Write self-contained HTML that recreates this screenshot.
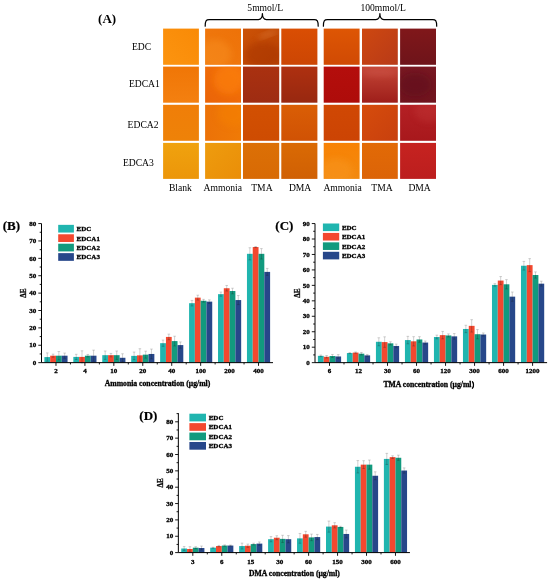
<!DOCTYPE html>
<html lang="en"><head><meta charset="utf-8"><title>Figure</title>
<style>html,body{margin:0;padding:0;background:#fff}svg{display:block}</style></head><body>
<svg width="550" height="581" viewBox="0 0 550 581">
<rect width="550" height="581" fill="#fff"/>
<g id="panelA">
<defs>
<linearGradient id="g00" x1="1" y1="0" x2="0" y2="1"><stop offset="0" stop-color="#F98A06"/><stop offset="1" stop-color="#FC9410"/></linearGradient>
<linearGradient id="g01" x1="1" y1="0" x2="0" y2="1"><stop offset="0" stop-color="#EE7208"/><stop offset="1" stop-color="#F07A10"/></linearGradient>
<linearGradient id="g02" x1="0" y1="0" x2="1" y2="1"><stop offset="0" stop-color="#CC5206"/><stop offset="1" stop-color="#B84204"/></linearGradient>
<linearGradient id="g03" x1="0" y1="0" x2="0" y2="1"><stop offset="0" stop-color="#DA4E03"/><stop offset="1" stop-color="#CC4604"/></linearGradient>
<linearGradient id="g04" x1="0" y1="0" x2="0" y2="1"><stop offset="0" stop-color="#DE5604"/><stop offset="1" stop-color="#D04A04"/></linearGradient>
<linearGradient id="g05" x1="0" y1="0" x2="1" y2="1"><stop offset="0" stop-color="#CE4810"/><stop offset="1" stop-color="#B83A18"/></linearGradient>
<linearGradient id="g06" x1="0" y1="0" x2="0" y2="1"><stop offset="0" stop-color="#80171A"/><stop offset="1" stop-color="#6E141A"/></linearGradient>
<linearGradient id="g10" x1="0" y1="0" x2="0" y2="1"><stop offset="0" stop-color="#F07606"/><stop offset="1" stop-color="#F48010"/></linearGradient>
<linearGradient id="g11" x1="0" y1="1" x2="1" y2="0"><stop offset="0" stop-color="#EA6408"/><stop offset="1" stop-color="#F47208"/></linearGradient>
<linearGradient id="g12" x1="0" y1="0" x2="0" y2="1"><stop offset="0" stop-color="#AA3110"/><stop offset="1" stop-color="#9E2C12"/></linearGradient>
<linearGradient id="g13" x1="0" y1="0" x2="0" y2="1"><stop offset="0" stop-color="#AE3010"/><stop offset="1" stop-color="#982810"/></linearGradient>
<linearGradient id="g14" x1="0" y1="0" x2="0" y2="1"><stop offset="0" stop-color="#B40E0C"/><stop offset="1" stop-color="#AE0C0A"/></linearGradient>
<linearGradient id="g15" x1="0" y1="0" x2="0" y2="1"><stop offset="0" stop-color="#C44636"/><stop offset="1" stop-color="#9E1E1A"/></linearGradient>
<linearGradient id="g16" x1="0" y1="0" x2="0" y2="1"><stop offset="0" stop-color="#781822"/><stop offset="1" stop-color="#70141E"/></linearGradient>
<linearGradient id="g20" x1="0" y1="0" x2="0" y2="1"><stop offset="0" stop-color="#F07E08"/><stop offset="1" stop-color="#EE8208"/></linearGradient>
<linearGradient id="g21" x1="0" y1="0" x2="1" y2="0"><stop offset="0" stop-color="#EC7208"/><stop offset="1" stop-color="#F07A06"/></linearGradient>
<linearGradient id="g22" x1="0" y1="0" x2="0" y2="1"><stop offset="0" stop-color="#D25002"/><stop offset="1" stop-color="#CE4C02"/></linearGradient>
<linearGradient id="g23" x1="0" y1="0" x2="0" y2="1"><stop offset="0" stop-color="#DA5E05"/><stop offset="1" stop-color="#D05204"/></linearGradient>
<linearGradient id="g24" x1="0" y1="0" x2="0" y2="1"><stop offset="0" stop-color="#D04804"/><stop offset="1" stop-color="#CC4404"/></linearGradient>
<linearGradient id="g25" x1="0" y1="0" x2="1" y2="1"><stop offset="0" stop-color="#D64C0C"/><stop offset="1" stop-color="#C8400E"/></linearGradient>
<linearGradient id="g26" x1="0" y1="0" x2="0" y2="1"><stop offset="0" stop-color="#B42024"/><stop offset="1" stop-color="#A8181C"/></linearGradient>
<linearGradient id="g30" x1="0" y1="0" x2="0" y2="1"><stop offset="0" stop-color="#F0A20E"/><stop offset="1" stop-color="#EC960A"/></linearGradient>
<linearGradient id="g31" x1="0" y1="0" x2="1" y2="1"><stop offset="0" stop-color="#EE9C0E"/><stop offset="1" stop-color="#EA8E08"/></linearGradient>
<linearGradient id="g32" x1="0" y1="0" x2="0" y2="1"><stop offset="0" stop-color="#DC7006"/><stop offset="1" stop-color="#D86A04"/></linearGradient>
<linearGradient id="g33" x1="0" y1="0" x2="0" y2="1"><stop offset="0" stop-color="#DA6A04"/><stop offset="1" stop-color="#D06004"/></linearGradient>
<linearGradient id="g34" x1="0" y1="0" x2="0" y2="1"><stop offset="0" stop-color="#F88204"/><stop offset="1" stop-color="#F28A10"/></linearGradient>
<linearGradient id="g35" x1="0" y1="0" x2="0" y2="1"><stop offset="0" stop-color="#E26A06"/><stop offset="1" stop-color="#DC6408"/></linearGradient>
<linearGradient id="g36" x1="0" y1="0" x2="0" y2="1"><stop offset="0" stop-color="#C62320"/><stop offset="1" stop-color="#BC1E1E"/></linearGradient>
</defs>
<rect x="163.1" y="28.6" width="35.8" height="36.2" fill="url(#g00)"/>
<rect x="205.1" y="28.6" width="35.9" height="36.2" fill="url(#g01)"/>
<rect x="243.0" y="28.6" width="36.2" height="36.2" fill="url(#g02)"/>
<rect x="281.3" y="28.6" width="36.1" height="36.2" fill="url(#g03)"/>
<rect x="323.7" y="28.6" width="35.9" height="36.2" fill="url(#g04)"/>
<rect x="362.0" y="28.6" width="35.8" height="36.2" fill="url(#g05)"/>
<rect x="400.1" y="28.6" width="35.9" height="36.2" fill="url(#g06)"/>
<rect x="163.1" y="66.6" width="35.8" height="36.1" fill="url(#g10)"/>
<rect x="205.1" y="66.6" width="35.9" height="36.1" fill="url(#g11)"/>
<rect x="243.0" y="66.6" width="36.2" height="36.1" fill="url(#g12)"/>
<rect x="281.3" y="66.6" width="36.1" height="36.1" fill="url(#g13)"/>
<rect x="323.7" y="66.6" width="35.9" height="36.1" fill="url(#g14)"/>
<rect x="362.0" y="66.6" width="35.8" height="36.1" fill="url(#g15)"/>
<rect x="400.1" y="66.6" width="35.9" height="36.1" fill="url(#g16)"/>
<rect x="163.1" y="104.8" width="35.8" height="36.0" fill="url(#g20)"/>
<rect x="205.1" y="104.8" width="35.9" height="36.0" fill="url(#g21)"/>
<rect x="243.0" y="104.8" width="36.2" height="36.0" fill="url(#g22)"/>
<rect x="281.3" y="104.8" width="36.1" height="36.0" fill="url(#g23)"/>
<rect x="323.7" y="104.8" width="35.9" height="36.0" fill="url(#g24)"/>
<rect x="362.0" y="104.8" width="35.8" height="36.0" fill="url(#g25)"/>
<rect x="400.1" y="104.8" width="35.9" height="36.0" fill="url(#g26)"/>
<rect x="163.1" y="142.9" width="35.8" height="36.0" fill="url(#g30)"/>
<rect x="205.1" y="142.9" width="35.9" height="36.0" fill="url(#g31)"/>
<rect x="243.0" y="142.9" width="36.2" height="36.0" fill="url(#g32)"/>
<rect x="281.3" y="142.9" width="36.1" height="36.0" fill="url(#g33)"/>
<rect x="323.7" y="142.9" width="35.9" height="36.0" fill="url(#g34)"/>
<rect x="362.0" y="142.9" width="35.8" height="36.0" fill="url(#g35)"/>
<rect x="400.1" y="142.9" width="35.9" height="36.0" fill="url(#g36)"/>
<defs><filter id="bl" x="-50%" y="-50%" width="200%" height="200%"><feGaussianBlur stdDeviation="3"/></filter>
<clipPath id="cp00"><rect x="163.1" y="28.6" width="35.8" height="36.2"/></clipPath>
<clipPath id="cp01"><rect x="205.1" y="28.6" width="35.9" height="36.2"/></clipPath>
<clipPath id="cp02"><rect x="243.0" y="28.6" width="36.2" height="36.2"/></clipPath>
<clipPath id="cp03"><rect x="281.3" y="28.6" width="36.1" height="36.2"/></clipPath>
<clipPath id="cp04"><rect x="323.7" y="28.6" width="35.9" height="36.2"/></clipPath>
<clipPath id="cp05"><rect x="362.0" y="28.6" width="35.8" height="36.2"/></clipPath>
<clipPath id="cp06"><rect x="400.1" y="28.6" width="35.9" height="36.2"/></clipPath>
<clipPath id="cp10"><rect x="163.1" y="66.6" width="35.8" height="36.1"/></clipPath>
<clipPath id="cp11"><rect x="205.1" y="66.6" width="35.9" height="36.1"/></clipPath>
<clipPath id="cp12"><rect x="243.0" y="66.6" width="36.2" height="36.1"/></clipPath>
<clipPath id="cp13"><rect x="281.3" y="66.6" width="36.1" height="36.1"/></clipPath>
<clipPath id="cp14"><rect x="323.7" y="66.6" width="35.9" height="36.1"/></clipPath>
<clipPath id="cp15"><rect x="362.0" y="66.6" width="35.8" height="36.1"/></clipPath>
<clipPath id="cp16"><rect x="400.1" y="66.6" width="35.9" height="36.1"/></clipPath>
<clipPath id="cp20"><rect x="163.1" y="104.8" width="35.8" height="36.0"/></clipPath>
<clipPath id="cp21"><rect x="205.1" y="104.8" width="35.9" height="36.0"/></clipPath>
<clipPath id="cp22"><rect x="243.0" y="104.8" width="36.2" height="36.0"/></clipPath>
<clipPath id="cp23"><rect x="281.3" y="104.8" width="36.1" height="36.0"/></clipPath>
<clipPath id="cp24"><rect x="323.7" y="104.8" width="35.9" height="36.0"/></clipPath>
<clipPath id="cp25"><rect x="362.0" y="104.8" width="35.8" height="36.0"/></clipPath>
<clipPath id="cp26"><rect x="400.1" y="104.8" width="35.9" height="36.0"/></clipPath>
<clipPath id="cp30"><rect x="163.1" y="142.9" width="35.8" height="36.0"/></clipPath>
<clipPath id="cp31"><rect x="205.1" y="142.9" width="35.9" height="36.0"/></clipPath>
<clipPath id="cp32"><rect x="243.0" y="142.9" width="36.2" height="36.0"/></clipPath>
<clipPath id="cp33"><rect x="281.3" y="142.9" width="36.1" height="36.0"/></clipPath>
<clipPath id="cp34"><rect x="323.7" y="142.9" width="35.9" height="36.0"/></clipPath>
<clipPath id="cp35"><rect x="362.0" y="142.9" width="35.8" height="36.0"/></clipPath>
<clipPath id="cp36"><rect x="400.1" y="142.9" width="35.9" height="36.0"/></clipPath>
</defs>
<g clip-path="url(#cp01)"><ellipse cx="215.2" cy="53.9" rx="16.2" ry="14.5" fill="#FA9626" opacity="0.38" filter="url(#bl)" transform="rotate(0 215.2 53.9)"/></g>
<g clip-path="url(#cp02)"><ellipse cx="262.9" cy="54.7" rx="18.1" ry="12.7" fill="#A83602" opacity="0.55" filter="url(#bl)" transform="rotate(0 262.9 54.7)"/></g>
<g clip-path="url(#cp02)"><ellipse cx="268.3" cy="34.4" rx="10.9" ry="1.8" fill="#E89050" opacity="0.55" filter="url(#bl)" transform="rotate(-20 268.3 34.4)"/></g>
<g clip-path="url(#cp11)"><ellipse cx="228.8" cy="79.6" rx="15.1" ry="14.4" fill="#FC8008" opacity="0.65" filter="url(#bl)" transform="rotate(-35 228.8 79.6)"/></g>
<g clip-path="url(#cp15)"><ellipse cx="379.9" cy="72.4" rx="17.9" ry="4.3" fill="#D05A50" opacity="0.45" filter="url(#bl)" transform="rotate(0 379.9 72.4)"/></g>
<g clip-path="url(#cp16)"><ellipse cx="415.2" cy="84.7" rx="16.2" ry="11.6" fill="#5E0E1C" opacity="0.55" filter="url(#bl)" transform="rotate(0 415.2 84.7)"/></g>
<g clip-path="url(#cp26)"><ellipse cx="428.8" cy="111.3" rx="14.4" ry="10.8" fill="#C03636" opacity="0.45" filter="url(#bl)" transform="rotate(0 428.8 111.3)"/></g>
<g clip-path="url(#cp34)"><ellipse cx="336.3" cy="171.0" rx="16.2" ry="12.6" fill="#FA9824" opacity="0.45" filter="url(#bl)" transform="rotate(0 336.3 171.0)"/></g>
<g clip-path="url(#cp21)"><ellipse cx="232.0" cy="113.8" rx="14.4" ry="12.6" fill="#F68206" opacity="0.45" filter="url(#bl)" transform="rotate(0 232.0 113.8)"/></g>
<path d="M205.2 26.2 C205.2 20.6 206.2 19.6 209.2 19.6 L258.4 19.6 C260.9 19.6 262.4 17.6 262.4 13.6 C262.4 17.6 263.9 19.6 266.4 19.6 L314.2 19.6 C317.2 19.6 318.2 20.6 318.2 26.2" fill="none" stroke="#000" stroke-width="1.2" stroke-linecap="round" stroke-linejoin="round"/>
<path d="M323.4 26.2 C323.4 20.6 324.4 19.6 327.4 19.6 L375.9 19.6 C378.4 19.6 379.9 17.6 379.9 13.6 C379.9 17.6 381.4 19.6 383.9 19.6 L432.7 19.6 C435.7 19.6 436.7 20.6 436.7 26.2" fill="none" stroke="#000" stroke-width="1.2" stroke-linecap="round" stroke-linejoin="round"/>
<text x="98.1" y="22.9" font-family="Liberation Serif, serif" font-size="13" font-weight="bold" text-anchor="start" fill="#000">(A)</text>
<text x="265.2" y="11.4" font-family="Liberation Serif, serif" font-size="9.6" font-weight="normal" text-anchor="middle" fill="#000">5mmol/L</text>
<text x="383.1" y="11.3" font-family="Liberation Serif, serif" font-size="9.6" font-weight="normal" text-anchor="middle" fill="#000">100mmol/L</text>
<text x="132" y="50.2" font-family="Liberation Serif, serif" font-size="9.6" font-weight="normal" text-anchor="start" fill="#000">EDC</text>
<text x="128.9" y="87.4" font-family="Liberation Serif, serif" font-size="9.6" font-weight="normal" text-anchor="start" fill="#000">EDCA1</text>
<text x="127.6" y="128.2" font-family="Liberation Serif, serif" font-size="9.6" font-weight="normal" text-anchor="start" fill="#000">EDCA2</text>
<text x="122.9" y="166.2" font-family="Liberation Serif, serif" font-size="9.6" font-weight="normal" text-anchor="start" fill="#000">EDCA3</text>
<text x="180.4" y="191" font-family="Liberation Serif, serif" font-size="9.6" font-weight="normal" text-anchor="middle" fill="#000">Blank</text>
<text x="222.8" y="191" font-family="Liberation Serif, serif" font-size="9.6" font-weight="normal" text-anchor="middle" fill="#000">Ammonia</text>
<text x="261.9" y="191" font-family="Liberation Serif, serif" font-size="9.6" font-weight="normal" text-anchor="middle" fill="#000">TMA</text>
<text x="300.1" y="191" font-family="Liberation Serif, serif" font-size="9.6" font-weight="normal" text-anchor="middle" fill="#000">DMA</text>
<text x="342.6" y="191" font-family="Liberation Serif, serif" font-size="9.6" font-weight="normal" text-anchor="middle" fill="#000">Ammonia</text>
<text x="382" y="191" font-family="Liberation Serif, serif" font-size="9.6" font-weight="normal" text-anchor="middle" fill="#000">TMA</text>
<text x="419.6" y="191" font-family="Liberation Serif, serif" font-size="9.6" font-weight="normal" text-anchor="middle" fill="#000">DMA</text>
</g>
<g>
<text x="2.7" y="230.3" font-family="Liberation Serif, serif" font-size="13" font-weight="bold" text-anchor="start" fill="#000" stroke="#000" stroke-width="0.2" >(B)</text>
<rect x="44.39" y="357.09" width="5.79" height="5.56" fill="#20B5AF"/>
<rect x="50.18" y="355.70" width="5.79" height="6.95" fill="#F3482F"/>
<rect x="55.97" y="355.70" width="5.79" height="6.95" fill="#129A7E"/>
<rect x="61.76" y="355.70" width="5.79" height="6.95" fill="#27478A"/>
<path d="M47.29 352.91V357.09M45.99 352.91H48.59" stroke="#8c8c8c" stroke-width="0.5" fill="none" opacity="0.8"/>
<path d="M47.29 357.09V361.26M45.99 361.26H48.59" stroke="#1a1a1a" stroke-width="0.5" fill="none" opacity="0.5"/>
<path d="M53.07 354.13V355.70M51.77 354.13H54.37" stroke="#8c8c8c" stroke-width="0.5" fill="none" opacity="0.8"/>
<path d="M53.07 355.70V357.26M51.77 357.26H54.37" stroke="#1a1a1a" stroke-width="0.5" fill="none" opacity="0.5"/>
<path d="M58.86 351.52V355.70M57.56 351.52H60.16" stroke="#8c8c8c" stroke-width="0.5" fill="none" opacity="0.8"/>
<path d="M58.86 355.70V359.87M57.56 359.87H60.16" stroke="#1a1a1a" stroke-width="0.5" fill="none" opacity="0.5"/>
<path d="M64.65 353.09V355.70M63.35 353.09H65.95" stroke="#8c8c8c" stroke-width="0.5" fill="none" opacity="0.8"/>
<path d="M64.65 355.70V358.30M63.35 358.30H65.95" stroke="#1a1a1a" stroke-width="0.5" fill="none" opacity="0.5"/>
<rect x="73.33" y="356.91" width="5.79" height="5.74" fill="#20B5AF"/>
<rect x="79.12" y="356.91" width="5.79" height="5.74" fill="#F3482F"/>
<rect x="84.91" y="355.70" width="5.79" height="6.95" fill="#129A7E"/>
<rect x="90.69" y="355.70" width="5.79" height="6.95" fill="#27478A"/>
<path d="M76.22 354.31V356.91M74.92 354.31H77.52" stroke="#8c8c8c" stroke-width="0.5" fill="none" opacity="0.8"/>
<path d="M76.22 356.91V359.52M74.92 359.52H77.52" stroke="#1a1a1a" stroke-width="0.5" fill="none" opacity="0.5"/>
<path d="M82.01 350.83V356.91M80.71 350.83H83.31" stroke="#8c8c8c" stroke-width="0.5" fill="none" opacity="0.8"/>
<path d="M82.01 356.91V363.00M80.71 363.00H83.31" stroke="#1a1a1a" stroke-width="0.5" fill="none" opacity="0.5"/>
<path d="M87.80 354.48V355.70M86.50 354.48H89.10" stroke="#8c8c8c" stroke-width="0.5" fill="none" opacity="0.8"/>
<path d="M87.80 355.70V356.91M86.50 356.91H89.10" stroke="#1a1a1a" stroke-width="0.5" fill="none" opacity="0.5"/>
<path d="M93.59 350.13V355.70M92.29 350.13H94.89" stroke="#8c8c8c" stroke-width="0.5" fill="none" opacity="0.8"/>
<path d="M93.59 355.70V361.26M92.29 361.26H94.89" stroke="#1a1a1a" stroke-width="0.5" fill="none" opacity="0.5"/>
<rect x="102.27" y="355.17" width="5.79" height="7.48" fill="#20B5AF"/>
<rect x="108.06" y="355.17" width="5.79" height="7.48" fill="#F3482F"/>
<rect x="113.84" y="355.17" width="5.79" height="7.48" fill="#129A7E"/>
<rect x="119.63" y="357.78" width="5.79" height="4.87" fill="#27478A"/>
<path d="M105.16 351.00V355.17M103.86 351.00H106.46" stroke="#8c8c8c" stroke-width="0.5" fill="none" opacity="0.8"/>
<path d="M105.16 355.17V359.35M103.86 359.35H106.46" stroke="#1a1a1a" stroke-width="0.5" fill="none" opacity="0.5"/>
<path d="M110.95 353.44V355.17M109.65 353.44H112.25" stroke="#8c8c8c" stroke-width="0.5" fill="none" opacity="0.8"/>
<path d="M110.95 355.17V356.91M109.65 356.91H112.25" stroke="#1a1a1a" stroke-width="0.5" fill="none" opacity="0.5"/>
<path d="M116.74 351.00V355.17M115.44 351.00H118.04" stroke="#8c8c8c" stroke-width="0.5" fill="none" opacity="0.8"/>
<path d="M116.74 355.17V359.35M115.44 359.35H118.04" stroke="#1a1a1a" stroke-width="0.5" fill="none" opacity="0.5"/>
<path d="M122.52 353.78V357.78M121.22 353.78H123.82" stroke="#8c8c8c" stroke-width="0.5" fill="none" opacity="0.8"/>
<path d="M122.52 357.78V361.78M121.22 361.78H123.82" stroke="#1a1a1a" stroke-width="0.5" fill="none" opacity="0.5"/>
<rect x="131.21" y="355.87" width="5.79" height="6.78" fill="#20B5AF"/>
<rect x="136.99" y="355.35" width="5.79" height="7.30" fill="#F3482F"/>
<rect x="142.78" y="354.65" width="5.79" height="8.00" fill="#129A7E"/>
<rect x="148.57" y="353.96" width="5.79" height="8.69" fill="#27478A"/>
<path d="M134.10 352.05V355.87M132.80 352.05H135.40" stroke="#8c8c8c" stroke-width="0.5" fill="none" opacity="0.8"/>
<path d="M134.10 355.87V359.69M132.80 359.69H135.40" stroke="#1a1a1a" stroke-width="0.5" fill="none" opacity="0.5"/>
<path d="M139.89 348.74V355.35M138.59 348.74H141.19" stroke="#8c8c8c" stroke-width="0.5" fill="none" opacity="0.8"/>
<path d="M139.89 355.35V361.95M138.59 361.95H141.19" stroke="#1a1a1a" stroke-width="0.5" fill="none" opacity="0.5"/>
<path d="M145.68 351.18V354.65M144.38 351.18H146.98" stroke="#8c8c8c" stroke-width="0.5" fill="none" opacity="0.8"/>
<path d="M145.68 354.65V358.13M144.38 358.13H146.98" stroke="#1a1a1a" stroke-width="0.5" fill="none" opacity="0.5"/>
<path d="M151.46 349.09V353.96M150.16 349.09H152.76" stroke="#8c8c8c" stroke-width="0.5" fill="none" opacity="0.8"/>
<path d="M151.46 353.96V358.83M150.16 358.83H152.76" stroke="#1a1a1a" stroke-width="0.5" fill="none" opacity="0.5"/>
<rect x="160.14" y="343.18" width="5.79" height="19.47" fill="#20B5AF"/>
<rect x="165.93" y="336.92" width="5.79" height="25.73" fill="#F3482F"/>
<rect x="171.72" y="341.09" width="5.79" height="21.56" fill="#129A7E"/>
<rect x="177.51" y="345.09" width="5.79" height="17.56" fill="#27478A"/>
<path d="M163.04 340.05V343.18M161.74 340.05H164.34" stroke="#8c8c8c" stroke-width="0.5" fill="none" opacity="0.8"/>
<path d="M163.04 343.18V346.31M161.74 346.31H164.34" stroke="#1a1a1a" stroke-width="0.5" fill="none" opacity="0.5"/>
<path d="M168.83 334.14V336.92M167.53 334.14H170.13" stroke="#8c8c8c" stroke-width="0.5" fill="none" opacity="0.8"/>
<path d="M168.83 336.92V339.70M167.53 339.70H170.13" stroke="#1a1a1a" stroke-width="0.5" fill="none" opacity="0.5"/>
<path d="M174.61 336.22V341.09M173.31 336.22H175.91" stroke="#8c8c8c" stroke-width="0.5" fill="none" opacity="0.8"/>
<path d="M174.61 341.09V345.96M173.31 345.96H175.91" stroke="#1a1a1a" stroke-width="0.5" fill="none" opacity="0.5"/>
<path d="M180.40 341.96V345.09M179.10 341.96H181.70" stroke="#8c8c8c" stroke-width="0.5" fill="none" opacity="0.8"/>
<path d="M180.40 345.09V348.22M179.10 348.22H181.70" stroke="#1a1a1a" stroke-width="0.5" fill="none" opacity="0.5"/>
<rect x="189.08" y="303.19" width="5.79" height="59.46" fill="#20B5AF"/>
<rect x="194.87" y="297.63" width="5.79" height="65.02" fill="#F3482F"/>
<rect x="200.66" y="300.76" width="5.79" height="61.89" fill="#129A7E"/>
<rect x="206.44" y="301.63" width="5.79" height="61.02" fill="#27478A"/>
<path d="M191.98 300.41V303.19M190.68 300.41H193.28" stroke="#8c8c8c" stroke-width="0.5" fill="none" opacity="0.8"/>
<path d="M191.98 303.19V305.97M190.68 305.97H193.28" stroke="#1a1a1a" stroke-width="0.5" fill="none" opacity="0.5"/>
<path d="M197.76 295.20V297.63M196.46 295.20H199.06" stroke="#8c8c8c" stroke-width="0.5" fill="none" opacity="0.8"/>
<path d="M197.76 297.63V300.06M196.46 300.06H199.06" stroke="#1a1a1a" stroke-width="0.5" fill="none" opacity="0.5"/>
<path d="M203.55 299.37V300.76M202.25 299.37H204.85" stroke="#8c8c8c" stroke-width="0.5" fill="none" opacity="0.8"/>
<path d="M203.55 300.76V302.15M202.25 302.15H204.85" stroke="#1a1a1a" stroke-width="0.5" fill="none" opacity="0.5"/>
<path d="M209.34 299.89V301.63M208.04 299.89H210.64" stroke="#8c8c8c" stroke-width="0.5" fill="none" opacity="0.8"/>
<path d="M209.34 301.63V303.37M208.04 303.37H210.64" stroke="#1a1a1a" stroke-width="0.5" fill="none" opacity="0.5"/>
<rect x="218.02" y="294.15" width="5.79" height="68.50" fill="#20B5AF"/>
<rect x="223.81" y="288.24" width="5.79" height="74.41" fill="#F3482F"/>
<rect x="229.59" y="291.02" width="5.79" height="71.63" fill="#129A7E"/>
<rect x="235.38" y="300.06" width="5.79" height="62.59" fill="#27478A"/>
<path d="M220.91 292.07V294.15M219.61 292.07H222.21" stroke="#8c8c8c" stroke-width="0.5" fill="none" opacity="0.8"/>
<path d="M220.91 294.15V296.24M219.61 296.24H222.21" stroke="#1a1a1a" stroke-width="0.5" fill="none" opacity="0.5"/>
<path d="M226.70 285.46V288.24M225.40 285.46H228.00" stroke="#8c8c8c" stroke-width="0.5" fill="none" opacity="0.8"/>
<path d="M226.70 288.24V291.02M225.40 291.02H228.00" stroke="#1a1a1a" stroke-width="0.5" fill="none" opacity="0.5"/>
<path d="M232.49 288.24V291.02M231.19 288.24H233.79" stroke="#8c8c8c" stroke-width="0.5" fill="none" opacity="0.8"/>
<path d="M232.49 291.02V293.81M231.19 293.81H233.79" stroke="#1a1a1a" stroke-width="0.5" fill="none" opacity="0.5"/>
<path d="M238.28 295.54V300.06M236.98 295.54H239.58" stroke="#8c8c8c" stroke-width="0.5" fill="none" opacity="0.8"/>
<path d="M238.28 300.06V304.58M236.98 304.58H239.58" stroke="#1a1a1a" stroke-width="0.5" fill="none" opacity="0.5"/>
<rect x="246.96" y="253.82" width="5.79" height="108.83" fill="#20B5AF"/>
<rect x="252.74" y="247.04" width="5.79" height="115.61" fill="#F3482F"/>
<rect x="258.53" y="253.82" width="5.79" height="108.83" fill="#129A7E"/>
<rect x="264.32" y="271.90" width="5.79" height="90.75" fill="#27478A"/>
<path d="M249.85 247.74V253.82M248.55 247.74H251.15" stroke="#8c8c8c" stroke-width="0.5" fill="none" opacity="0.8"/>
<path d="M249.85 253.82V259.90M248.55 259.90H251.15" stroke="#1a1a1a" stroke-width="0.5" fill="none" opacity="0.5"/>
<path d="M255.64 246.52V247.04M254.34 246.52H256.94" stroke="#8c8c8c" stroke-width="0.5" fill="none" opacity="0.8"/>
<path d="M255.64 247.04V247.56M254.34 247.56H256.94" stroke="#1a1a1a" stroke-width="0.5" fill="none" opacity="0.5"/>
<path d="M261.43 248.60V253.82M260.12 248.60H262.73" stroke="#8c8c8c" stroke-width="0.5" fill="none" opacity="0.8"/>
<path d="M261.43 253.82V259.04M260.12 259.04H262.73" stroke="#1a1a1a" stroke-width="0.5" fill="none" opacity="0.5"/>
<path d="M267.21 268.42V271.90M265.91 268.42H268.51" stroke="#8c8c8c" stroke-width="0.5" fill="none" opacity="0.8"/>
<path d="M267.21 271.90V275.38M265.91 275.38H268.51" stroke="#1a1a1a" stroke-width="0.5" fill="none" opacity="0.5"/>
<path d="M41.5 223.57V362.65H273.0" stroke="#000" stroke-width="1" fill="none"/>
<path d="M38.30 362.65H41.5" stroke="#000" stroke-width="0.9"/>
<text x="36.3" y="364.84999999999997" font-family="Liberation Serif, serif" font-size="7.0" font-weight="bold" text-anchor="end" fill="#000" stroke="#000" stroke-width="0.3" >0</text>
<path d="M39.70 353.96H41.5" stroke="#000" stroke-width="0.9"/>
<path d="M38.30 345.26H41.5" stroke="#000" stroke-width="0.9"/>
<text x="36.3" y="347.465" font-family="Liberation Serif, serif" font-size="7.0" font-weight="bold" text-anchor="end" fill="#000" stroke="#000" stroke-width="0.3" >10</text>
<path d="M39.70 336.57H41.5" stroke="#000" stroke-width="0.9"/>
<path d="M38.30 327.88H41.5" stroke="#000" stroke-width="0.9"/>
<text x="36.3" y="330.08" font-family="Liberation Serif, serif" font-size="7.0" font-weight="bold" text-anchor="end" fill="#000" stroke="#000" stroke-width="0.3" >20</text>
<path d="M39.70 319.19H41.5" stroke="#000" stroke-width="0.9"/>
<path d="M38.30 310.50H41.5" stroke="#000" stroke-width="0.9"/>
<text x="36.3" y="312.695" font-family="Liberation Serif, serif" font-size="7.0" font-weight="bold" text-anchor="end" fill="#000" stroke="#000" stroke-width="0.3" >30</text>
<path d="M39.70 301.80H41.5" stroke="#000" stroke-width="0.9"/>
<path d="M38.30 293.11H41.5" stroke="#000" stroke-width="0.9"/>
<text x="36.3" y="295.31" font-family="Liberation Serif, serif" font-size="7.0" font-weight="bold" text-anchor="end" fill="#000" stroke="#000" stroke-width="0.3" >40</text>
<path d="M39.70 284.42H41.5" stroke="#000" stroke-width="0.9"/>
<path d="M38.30 275.72H41.5" stroke="#000" stroke-width="0.9"/>
<text x="36.3" y="277.92499999999995" font-family="Liberation Serif, serif" font-size="7.0" font-weight="bold" text-anchor="end" fill="#000" stroke="#000" stroke-width="0.3" >50</text>
<path d="M39.70 267.03H41.5" stroke="#000" stroke-width="0.9"/>
<path d="M38.30 258.34H41.5" stroke="#000" stroke-width="0.9"/>
<text x="36.3" y="260.53999999999996" font-family="Liberation Serif, serif" font-size="7.0" font-weight="bold" text-anchor="end" fill="#000" stroke="#000" stroke-width="0.3" >60</text>
<path d="M39.70 249.65H41.5" stroke="#000" stroke-width="0.9"/>
<path d="M38.30 240.95H41.5" stroke="#000" stroke-width="0.9"/>
<text x="36.3" y="243.15499999999997" font-family="Liberation Serif, serif" font-size="7.0" font-weight="bold" text-anchor="end" fill="#000" stroke="#000" stroke-width="0.3" >70</text>
<path d="M39.70 232.26H41.5" stroke="#000" stroke-width="0.9"/>
<path d="M38.30 223.57H41.5" stroke="#000" stroke-width="0.9"/>
<text x="36.3" y="225.76999999999998" font-family="Liberation Serif, serif" font-size="7.0" font-weight="bold" text-anchor="end" fill="#000" stroke="#000" stroke-width="0.3" >80</text>
<path d="M55.97 362.65v3.2" stroke="#000" stroke-width="0.9"/>
<text x="55.97" y="373.2" font-family="Liberation Serif, serif" font-size="7.0" font-weight="bold" text-anchor="middle" fill="#000" stroke="#000" stroke-width="0.3" >2</text>
<path d="M84.91 362.65v3.2" stroke="#000" stroke-width="0.9"/>
<text x="84.91" y="373.2" font-family="Liberation Serif, serif" font-size="7.0" font-weight="bold" text-anchor="middle" fill="#000" stroke="#000" stroke-width="0.3" >4</text>
<path d="M70.44 362.65v1.8" stroke="#000" stroke-width="0.9"/>
<path d="M113.84 362.65v3.2" stroke="#000" stroke-width="0.9"/>
<text x="113.84" y="373.2" font-family="Liberation Serif, serif" font-size="7.0" font-weight="bold" text-anchor="middle" fill="#000" stroke="#000" stroke-width="0.3" >10</text>
<path d="M99.38 362.65v1.8" stroke="#000" stroke-width="0.9"/>
<path d="M142.78 362.65v3.2" stroke="#000" stroke-width="0.9"/>
<text x="142.78" y="373.2" font-family="Liberation Serif, serif" font-size="7.0" font-weight="bold" text-anchor="middle" fill="#000" stroke="#000" stroke-width="0.3" >20</text>
<path d="M128.31 362.65v1.8" stroke="#000" stroke-width="0.9"/>
<path d="M171.72 362.65v3.2" stroke="#000" stroke-width="0.9"/>
<text x="171.72" y="373.2" font-family="Liberation Serif, serif" font-size="7.0" font-weight="bold" text-anchor="middle" fill="#000" stroke="#000" stroke-width="0.3" >40</text>
<path d="M157.25 362.65v1.8" stroke="#000" stroke-width="0.9"/>
<path d="M200.66 362.65v3.2" stroke="#000" stroke-width="0.9"/>
<text x="200.66" y="373.2" font-family="Liberation Serif, serif" font-size="7.0" font-weight="bold" text-anchor="middle" fill="#000" stroke="#000" stroke-width="0.3" >100</text>
<path d="M186.19 362.65v1.8" stroke="#000" stroke-width="0.9"/>
<path d="M229.59 362.65v3.2" stroke="#000" stroke-width="0.9"/>
<text x="229.59" y="373.2" font-family="Liberation Serif, serif" font-size="7.0" font-weight="bold" text-anchor="middle" fill="#000" stroke="#000" stroke-width="0.3" >200</text>
<path d="M215.12 362.65v1.8" stroke="#000" stroke-width="0.9"/>
<path d="M258.53 362.65v3.2" stroke="#000" stroke-width="0.9"/>
<text x="258.53" y="373.2" font-family="Liberation Serif, serif" font-size="7.0" font-weight="bold" text-anchor="middle" fill="#000" stroke="#000" stroke-width="0.3" >400</text>
<path d="M244.06 362.65v1.8" stroke="#000" stroke-width="0.9"/>
<text x="157.5" y="386.3" font-family="Liberation Serif, serif" font-size="7.7" font-weight="bold" text-anchor="middle" fill="#000" stroke="#000" stroke-width="0.3" >Ammonia concentration (μg/ml)</text>
<text x="25.6" y="293.1" font-family="Liberation Serif, serif" font-size="7.2" font-weight="bold" text-anchor="middle" fill="#000" stroke="#000" stroke-width="0.3" transform="rotate(-90 25.6 293.1)">ΔE</text>
<rect x="58.2" y="224.85" width="15.7" height="7.7" fill="#20B5AF"/>
<text x="76.60" y="231.20" font-family="Liberation Serif, serif" font-size="7.0" font-weight="bold" text-anchor="start" fill="#000" stroke="#000" stroke-width="0.3" >EDC</text>
<rect x="58.2" y="234.28" width="15.7" height="7.7" fill="#F3482F"/>
<text x="76.60" y="240.63" font-family="Liberation Serif, serif" font-size="7.0" font-weight="bold" text-anchor="start" fill="#000" stroke="#000" stroke-width="0.3" >EDCA1</text>
<rect x="58.2" y="243.71" width="15.7" height="7.7" fill="#129A7E"/>
<text x="76.60" y="250.06" font-family="Liberation Serif, serif" font-size="7.0" font-weight="bold" text-anchor="start" fill="#000" stroke="#000" stroke-width="0.3" >EDCA2</text>
<rect x="58.2" y="253.14" width="15.7" height="7.7" fill="#27478A"/>
<text x="76.60" y="259.49" font-family="Liberation Serif, serif" font-size="7.0" font-weight="bold" text-anchor="start" fill="#000" stroke="#000" stroke-width="0.3" >EDCA3</text>
</g>
<g>
<text x="275.3" y="229.9" font-family="Liberation Serif, serif" font-size="13" font-weight="bold" text-anchor="start" fill="#000" stroke="#000" stroke-width="0.2" >(C)</text>
<rect x="317.90" y="355.85" width="5.80" height="6.80" fill="#20B5AF"/>
<rect x="323.70" y="356.78" width="5.80" height="5.87" fill="#F3482F"/>
<rect x="329.51" y="356.00" width="5.80" height="6.65" fill="#129A7E"/>
<rect x="335.31" y="356.47" width="5.80" height="6.18" fill="#27478A"/>
<path d="M320.80 355.08V355.85M319.50 355.08H322.10" stroke="#8c8c8c" stroke-width="0.5" fill="none" opacity="0.8"/>
<path d="M320.80 355.85V356.62M319.50 356.62H322.10" stroke="#1a1a1a" stroke-width="0.5" fill="none" opacity="0.5"/>
<path d="M326.61 355.54V356.78M325.31 355.54H327.91" stroke="#8c8c8c" stroke-width="0.5" fill="none" opacity="0.8"/>
<path d="M326.61 356.78V358.01M325.31 358.01H327.91" stroke="#1a1a1a" stroke-width="0.5" fill="none" opacity="0.5"/>
<path d="M332.41 354.46V356.00M331.11 354.46H333.71" stroke="#8c8c8c" stroke-width="0.5" fill="none" opacity="0.8"/>
<path d="M332.41 356.00V357.55M331.11 357.55H333.71" stroke="#1a1a1a" stroke-width="0.5" fill="none" opacity="0.5"/>
<path d="M338.21 354.61V356.47M336.91 354.61H339.51" stroke="#8c8c8c" stroke-width="0.5" fill="none" opacity="0.8"/>
<path d="M338.21 356.47V358.32M336.91 358.32H339.51" stroke="#1a1a1a" stroke-width="0.5" fill="none" opacity="0.5"/>
<rect x="346.91" y="353.07" width="5.80" height="9.58" fill="#20B5AF"/>
<rect x="352.72" y="352.60" width="5.80" height="10.05" fill="#F3482F"/>
<rect x="358.52" y="353.69" width="5.80" height="8.96" fill="#129A7E"/>
<rect x="364.32" y="355.39" width="5.80" height="7.26" fill="#27478A"/>
<path d="M349.81 352.60V353.07M348.51 352.60H351.12" stroke="#8c8c8c" stroke-width="0.5" fill="none" opacity="0.8"/>
<path d="M349.81 353.07V353.53M348.51 353.53H351.12" stroke="#1a1a1a" stroke-width="0.5" fill="none" opacity="0.5"/>
<path d="M355.62 351.99V352.60M354.32 351.99H356.92" stroke="#8c8c8c" stroke-width="0.5" fill="none" opacity="0.8"/>
<path d="M355.62 352.60V353.22M354.32 353.22H356.92" stroke="#1a1a1a" stroke-width="0.5" fill="none" opacity="0.5"/>
<path d="M361.42 352.45V353.69M360.12 352.45H362.72" stroke="#8c8c8c" stroke-width="0.5" fill="none" opacity="0.8"/>
<path d="M361.42 353.69V354.92M360.12 354.92H362.72" stroke="#1a1a1a" stroke-width="0.5" fill="none" opacity="0.5"/>
<path d="M367.22 354.46V355.39M365.92 354.46H368.52" stroke="#8c8c8c" stroke-width="0.5" fill="none" opacity="0.8"/>
<path d="M367.22 355.39V356.31M365.92 356.31H368.52" stroke="#1a1a1a" stroke-width="0.5" fill="none" opacity="0.5"/>
<rect x="375.93" y="341.78" width="5.80" height="20.87" fill="#20B5AF"/>
<rect x="381.73" y="342.09" width="5.80" height="20.56" fill="#F3482F"/>
<rect x="387.53" y="343.33" width="5.80" height="19.32" fill="#129A7E"/>
<rect x="393.33" y="345.96" width="5.80" height="16.69" fill="#27478A"/>
<path d="M378.83 337.77V341.78M377.53 337.77H380.13" stroke="#8c8c8c" stroke-width="0.5" fill="none" opacity="0.8"/>
<path d="M378.83 341.78V345.80M377.53 345.80H380.13" stroke="#1a1a1a" stroke-width="0.5" fill="none" opacity="0.5"/>
<path d="M384.63 336.84V342.09M383.33 336.84H385.93" stroke="#8c8c8c" stroke-width="0.5" fill="none" opacity="0.8"/>
<path d="M384.63 342.09V347.35M383.33 347.35H385.93" stroke="#1a1a1a" stroke-width="0.5" fill="none" opacity="0.5"/>
<path d="M390.43 341.78V343.33M389.13 341.78H391.73" stroke="#8c8c8c" stroke-width="0.5" fill="none" opacity="0.8"/>
<path d="M390.43 343.33V344.88M389.13 344.88H391.73" stroke="#1a1a1a" stroke-width="0.5" fill="none" opacity="0.5"/>
<path d="M396.24 344.10V345.96M394.94 344.10H397.54" stroke="#8c8c8c" stroke-width="0.5" fill="none" opacity="0.8"/>
<path d="M396.24 345.96V347.81M394.94 347.81H397.54" stroke="#1a1a1a" stroke-width="0.5" fill="none" opacity="0.5"/>
<rect x="404.94" y="340.08" width="5.80" height="22.57" fill="#20B5AF"/>
<rect x="410.74" y="341.32" width="5.80" height="21.33" fill="#F3482F"/>
<rect x="416.54" y="339.47" width="5.80" height="23.18" fill="#129A7E"/>
<rect x="422.35" y="342.56" width="5.80" height="20.09" fill="#27478A"/>
<path d="M407.84 336.37V340.08M406.54 336.37H409.14" stroke="#8c8c8c" stroke-width="0.5" fill="none" opacity="0.8"/>
<path d="M407.84 340.08V343.79M406.54 343.79H409.14" stroke="#1a1a1a" stroke-width="0.5" fill="none" opacity="0.5"/>
<path d="M413.64 336.68V341.32M412.34 336.68H414.94" stroke="#8c8c8c" stroke-width="0.5" fill="none" opacity="0.8"/>
<path d="M413.64 341.32V345.96M412.34 345.96H414.94" stroke="#1a1a1a" stroke-width="0.5" fill="none" opacity="0.5"/>
<path d="M419.45 336.68V339.47M418.15 336.68H420.75" stroke="#8c8c8c" stroke-width="0.5" fill="none" opacity="0.8"/>
<path d="M419.45 339.47V342.25M418.15 342.25H420.75" stroke="#1a1a1a" stroke-width="0.5" fill="none" opacity="0.5"/>
<path d="M425.25 341.01V342.56M423.95 341.01H426.55" stroke="#8c8c8c" stroke-width="0.5" fill="none" opacity="0.8"/>
<path d="M425.25 342.56V344.10M423.95 344.10H426.55" stroke="#1a1a1a" stroke-width="0.5" fill="none" opacity="0.5"/>
<rect x="433.95" y="336.99" width="5.80" height="25.66" fill="#20B5AF"/>
<rect x="439.75" y="335.14" width="5.80" height="27.51" fill="#F3482F"/>
<rect x="445.56" y="335.45" width="5.80" height="27.20" fill="#129A7E"/>
<rect x="451.36" y="336.37" width="5.80" height="26.28" fill="#27478A"/>
<path d="M436.85 335.14V336.99M435.55 335.14H438.15" stroke="#8c8c8c" stroke-width="0.5" fill="none" opacity="0.8"/>
<path d="M436.85 336.99V338.85M435.55 338.85H438.15" stroke="#1a1a1a" stroke-width="0.5" fill="none" opacity="0.5"/>
<path d="M442.66 331.43V335.14M441.36 331.43H443.96" stroke="#8c8c8c" stroke-width="0.5" fill="none" opacity="0.8"/>
<path d="M442.66 335.14V338.85M441.36 338.85H443.96" stroke="#1a1a1a" stroke-width="0.5" fill="none" opacity="0.5"/>
<path d="M448.46 333.90V335.45M447.16 333.90H449.76" stroke="#8c8c8c" stroke-width="0.5" fill="none" opacity="0.8"/>
<path d="M448.46 335.45V336.99M447.16 336.99H449.76" stroke="#1a1a1a" stroke-width="0.5" fill="none" opacity="0.5"/>
<path d="M454.26 333.59V336.37M452.96 333.59H455.56" stroke="#8c8c8c" stroke-width="0.5" fill="none" opacity="0.8"/>
<path d="M454.26 336.37V339.16M452.96 339.16H455.56" stroke="#1a1a1a" stroke-width="0.5" fill="none" opacity="0.5"/>
<rect x="462.96" y="328.96" width="5.80" height="33.69" fill="#20B5AF"/>
<rect x="468.77" y="325.86" width="5.80" height="36.79" fill="#F3482F"/>
<rect x="474.57" y="334.21" width="5.80" height="28.44" fill="#129A7E"/>
<rect x="480.37" y="334.52" width="5.80" height="28.13" fill="#27478A"/>
<path d="M465.87 325.25V328.96M464.56 325.25H467.17" stroke="#8c8c8c" stroke-width="0.5" fill="none" opacity="0.8"/>
<path d="M465.87 328.96V332.67M464.56 332.67H467.17" stroke="#1a1a1a" stroke-width="0.5" fill="none" opacity="0.5"/>
<path d="M471.67 319.68V325.86M470.37 319.68H472.97" stroke="#8c8c8c" stroke-width="0.5" fill="none" opacity="0.8"/>
<path d="M471.67 325.86V332.05M470.37 332.05H472.97" stroke="#1a1a1a" stroke-width="0.5" fill="none" opacity="0.5"/>
<path d="M477.47 329.57V334.21M476.17 329.57H478.77" stroke="#8c8c8c" stroke-width="0.5" fill="none" opacity="0.8"/>
<path d="M477.47 334.21V338.85M476.17 338.85H478.77" stroke="#1a1a1a" stroke-width="0.5" fill="none" opacity="0.5"/>
<path d="M483.27 332.97V334.52M481.97 332.97H484.57" stroke="#8c8c8c" stroke-width="0.5" fill="none" opacity="0.8"/>
<path d="M483.27 334.52V336.07M481.97 336.07H484.57" stroke="#1a1a1a" stroke-width="0.5" fill="none" opacity="0.5"/>
<rect x="491.98" y="284.91" width="5.80" height="77.74" fill="#20B5AF"/>
<rect x="497.78" y="280.58" width="5.80" height="82.07" fill="#F3482F"/>
<rect x="503.58" y="284.29" width="5.80" height="78.36" fill="#129A7E"/>
<rect x="509.38" y="296.65" width="5.80" height="66.00" fill="#27478A"/>
<path d="M494.88 283.67V284.91M493.58 283.67H496.18" stroke="#8c8c8c" stroke-width="0.5" fill="none" opacity="0.8"/>
<path d="M494.88 284.91V286.14M493.58 286.14H496.18" stroke="#1a1a1a" stroke-width="0.5" fill="none" opacity="0.5"/>
<path d="M500.68 276.56V280.58M499.38 276.56H501.98" stroke="#8c8c8c" stroke-width="0.5" fill="none" opacity="0.8"/>
<path d="M500.68 280.58V284.60M499.38 284.60H501.98" stroke="#1a1a1a" stroke-width="0.5" fill="none" opacity="0.5"/>
<path d="M506.48 279.65V284.29M505.18 279.65H507.78" stroke="#8c8c8c" stroke-width="0.5" fill="none" opacity="0.8"/>
<path d="M506.48 284.29V288.92M505.18 288.92H507.78" stroke="#1a1a1a" stroke-width="0.5" fill="none" opacity="0.5"/>
<path d="M512.29 292.02V296.65M510.99 292.02H513.59" stroke="#8c8c8c" stroke-width="0.5" fill="none" opacity="0.8"/>
<path d="M512.29 296.65V301.29M510.99 301.29H513.59" stroke="#1a1a1a" stroke-width="0.5" fill="none" opacity="0.5"/>
<rect x="520.99" y="265.74" width="5.80" height="96.91" fill="#20B5AF"/>
<rect x="526.79" y="265.12" width="5.80" height="97.53" fill="#F3482F"/>
<rect x="532.59" y="275.01" width="5.80" height="87.64" fill="#129A7E"/>
<rect x="538.40" y="283.67" width="5.80" height="78.98" fill="#27478A"/>
<path d="M523.89 261.41V265.74M522.59 261.41H525.19" stroke="#8c8c8c" stroke-width="0.5" fill="none" opacity="0.8"/>
<path d="M523.89 265.74V270.07M522.59 270.07H525.19" stroke="#1a1a1a" stroke-width="0.5" fill="none" opacity="0.5"/>
<path d="M529.69 258.63V265.12M528.39 258.63H530.99" stroke="#8c8c8c" stroke-width="0.5" fill="none" opacity="0.8"/>
<path d="M529.69 265.12V271.61M528.39 271.61H530.99" stroke="#1a1a1a" stroke-width="0.5" fill="none" opacity="0.5"/>
<path d="M535.50 271.92V275.01M534.20 271.92H536.80" stroke="#8c8c8c" stroke-width="0.5" fill="none" opacity="0.8"/>
<path d="M535.50 275.01V278.11M534.20 278.11H536.80" stroke="#1a1a1a" stroke-width="0.5" fill="none" opacity="0.5"/>
<path d="M541.30 281.20V283.67M540.00 281.20H542.60" stroke="#8c8c8c" stroke-width="0.5" fill="none" opacity="0.8"/>
<path d="M541.30 283.67V286.14M540.00 286.14H542.60" stroke="#1a1a1a" stroke-width="0.5" fill="none" opacity="0.5"/>
<path d="M315.0 223.55V362.65H547.1" stroke="#000" stroke-width="1" fill="none"/>
<path d="M311.80 362.65H315.0" stroke="#000" stroke-width="0.9"/>
<text x="309.8" y="364.84999999999997" font-family="Liberation Serif, serif" font-size="7.0" font-weight="bold" text-anchor="end" fill="#000" stroke="#000" stroke-width="0.3" >0</text>
<path d="M313.20 354.92H315.0" stroke="#000" stroke-width="0.9"/>
<path d="M311.80 347.19H315.0" stroke="#000" stroke-width="0.9"/>
<text x="309.8" y="349.39399999999995" font-family="Liberation Serif, serif" font-size="7.0" font-weight="bold" text-anchor="end" fill="#000" stroke="#000" stroke-width="0.3" >10</text>
<path d="M313.20 339.47H315.0" stroke="#000" stroke-width="0.9"/>
<path d="M311.80 331.74H315.0" stroke="#000" stroke-width="0.9"/>
<text x="309.8" y="333.938" font-family="Liberation Serif, serif" font-size="7.0" font-weight="bold" text-anchor="end" fill="#000" stroke="#000" stroke-width="0.3" >20</text>
<path d="M313.20 324.01H315.0" stroke="#000" stroke-width="0.9"/>
<path d="M311.80 316.28H315.0" stroke="#000" stroke-width="0.9"/>
<text x="309.8" y="318.48199999999997" font-family="Liberation Serif, serif" font-size="7.0" font-weight="bold" text-anchor="end" fill="#000" stroke="#000" stroke-width="0.3" >30</text>
<path d="M313.20 308.55H315.0" stroke="#000" stroke-width="0.9"/>
<path d="M311.80 300.83H315.0" stroke="#000" stroke-width="0.9"/>
<text x="309.8" y="303.02599999999995" font-family="Liberation Serif, serif" font-size="7.0" font-weight="bold" text-anchor="end" fill="#000" stroke="#000" stroke-width="0.3" >40</text>
<path d="M313.20 293.10H315.0" stroke="#000" stroke-width="0.9"/>
<path d="M311.80 285.37H315.0" stroke="#000" stroke-width="0.9"/>
<text x="309.8" y="287.57" font-family="Liberation Serif, serif" font-size="7.0" font-weight="bold" text-anchor="end" fill="#000" stroke="#000" stroke-width="0.3" >50</text>
<path d="M313.20 277.64H315.0" stroke="#000" stroke-width="0.9"/>
<path d="M311.80 269.91H315.0" stroke="#000" stroke-width="0.9"/>
<text x="309.8" y="272.114" font-family="Liberation Serif, serif" font-size="7.0" font-weight="bold" text-anchor="end" fill="#000" stroke="#000" stroke-width="0.3" >60</text>
<path d="M313.20 262.19H315.0" stroke="#000" stroke-width="0.9"/>
<path d="M311.80 254.46H315.0" stroke="#000" stroke-width="0.9"/>
<text x="309.8" y="256.65799999999996" font-family="Liberation Serif, serif" font-size="7.0" font-weight="bold" text-anchor="end" fill="#000" stroke="#000" stroke-width="0.3" >70</text>
<path d="M313.20 246.73H315.0" stroke="#000" stroke-width="0.9"/>
<path d="M311.80 239.00H315.0" stroke="#000" stroke-width="0.9"/>
<text x="309.8" y="241.20199999999994" font-family="Liberation Serif, serif" font-size="7.0" font-weight="bold" text-anchor="end" fill="#000" stroke="#000" stroke-width="0.3" >80</text>
<path d="M313.20 231.27H315.0" stroke="#000" stroke-width="0.9"/>
<path d="M311.80 223.55H315.0" stroke="#000" stroke-width="0.9"/>
<text x="309.8" y="225.74599999999995" font-family="Liberation Serif, serif" font-size="7.0" font-weight="bold" text-anchor="end" fill="#000" stroke="#000" stroke-width="0.3" >90</text>
<path d="M329.51 362.65v3.2" stroke="#000" stroke-width="0.9"/>
<text x="329.51" y="373.2" font-family="Liberation Serif, serif" font-size="7.0" font-weight="bold" text-anchor="middle" fill="#000" stroke="#000" stroke-width="0.3" >6</text>
<path d="M358.52 362.65v3.2" stroke="#000" stroke-width="0.9"/>
<text x="358.52" y="373.2" font-family="Liberation Serif, serif" font-size="7.0" font-weight="bold" text-anchor="middle" fill="#000" stroke="#000" stroke-width="0.3" >12</text>
<path d="M344.01 362.65v1.8" stroke="#000" stroke-width="0.9"/>
<path d="M387.53 362.65v3.2" stroke="#000" stroke-width="0.9"/>
<text x="387.53" y="373.2" font-family="Liberation Serif, serif" font-size="7.0" font-weight="bold" text-anchor="middle" fill="#000" stroke="#000" stroke-width="0.3" >30</text>
<path d="M373.02 362.65v1.8" stroke="#000" stroke-width="0.9"/>
<path d="M416.54 362.65v3.2" stroke="#000" stroke-width="0.9"/>
<text x="416.54" y="373.2" font-family="Liberation Serif, serif" font-size="7.0" font-weight="bold" text-anchor="middle" fill="#000" stroke="#000" stroke-width="0.3" >60</text>
<path d="M402.04 362.65v1.8" stroke="#000" stroke-width="0.9"/>
<path d="M445.56 362.65v3.2" stroke="#000" stroke-width="0.9"/>
<text x="445.56" y="373.2" font-family="Liberation Serif, serif" font-size="7.0" font-weight="bold" text-anchor="middle" fill="#000" stroke="#000" stroke-width="0.3" >120</text>
<path d="M431.05 362.65v1.8" stroke="#000" stroke-width="0.9"/>
<path d="M474.57 362.65v3.2" stroke="#000" stroke-width="0.9"/>
<text x="474.57" y="373.2" font-family="Liberation Serif, serif" font-size="7.0" font-weight="bold" text-anchor="middle" fill="#000" stroke="#000" stroke-width="0.3" >300</text>
<path d="M460.06 362.65v1.8" stroke="#000" stroke-width="0.9"/>
<path d="M503.58 362.65v3.2" stroke="#000" stroke-width="0.9"/>
<text x="503.58" y="373.2" font-family="Liberation Serif, serif" font-size="7.0" font-weight="bold" text-anchor="middle" fill="#000" stroke="#000" stroke-width="0.3" >600</text>
<path d="M489.08 362.65v1.8" stroke="#000" stroke-width="0.9"/>
<path d="M532.59 362.65v3.2" stroke="#000" stroke-width="0.9"/>
<text x="532.59" y="373.2" font-family="Liberation Serif, serif" font-size="7.0" font-weight="bold" text-anchor="middle" fill="#000" stroke="#000" stroke-width="0.3" >1200</text>
<path d="M518.09 362.65v1.8" stroke="#000" stroke-width="0.9"/>
<text x="383.4" y="386.6" font-family="Liberation Serif, serif" font-size="7.7" font-weight="bold" text-anchor="start" fill="#000" stroke="#000" stroke-width="0.3" >TMA concentration (μg/ml）</text>
<text x="299.6" y="293.0" font-family="Liberation Serif, serif" font-size="7.2" font-weight="bold" text-anchor="middle" fill="#000" stroke="#000" stroke-width="0.3" transform="rotate(-90 299.6 293.0)">ΔE</text>
<rect x="322.9" y="223.50" width="16.3" height="7.6" fill="#20B5AF"/>
<text x="341.90" y="229.80" font-family="Liberation Serif, serif" font-size="7.0" font-weight="bold" text-anchor="start" fill="#000" stroke="#000" stroke-width="0.3" >EDC</text>
<rect x="322.9" y="232.93" width="16.3" height="7.6" fill="#F3482F"/>
<text x="341.90" y="239.23" font-family="Liberation Serif, serif" font-size="7.0" font-weight="bold" text-anchor="start" fill="#000" stroke="#000" stroke-width="0.3" >EDCA1</text>
<rect x="322.9" y="242.36" width="16.3" height="7.6" fill="#129A7E"/>
<text x="341.90" y="248.66" font-family="Liberation Serif, serif" font-size="7.0" font-weight="bold" text-anchor="start" fill="#000" stroke="#000" stroke-width="0.3" >EDCA2</text>
<rect x="322.9" y="251.79" width="16.3" height="7.6" fill="#27478A"/>
<text x="341.90" y="258.09" font-family="Liberation Serif, serif" font-size="7.0" font-weight="bold" text-anchor="start" fill="#000" stroke="#000" stroke-width="0.3" >EDCA3</text>
</g>
<g>
<text x="139.3" y="420.0" font-family="Liberation Serif, serif" font-size="13" font-weight="bold" text-anchor="start" fill="#000" stroke="#000" stroke-width="0.2" >(D)</text>
<rect x="181.25" y="548.51" width="5.79" height="4.09" fill="#20B5AF"/>
<rect x="187.03" y="549.00" width="5.79" height="3.60" fill="#F3482F"/>
<rect x="192.83" y="547.70" width="5.79" height="4.91" fill="#129A7E"/>
<rect x="198.62" y="548.02" width="5.79" height="4.58" fill="#27478A"/>
<path d="M184.14 546.55V548.51M182.84 546.55H185.44" stroke="#8c8c8c" stroke-width="0.5" fill="none" opacity="0.8"/>
<path d="M184.14 548.51V550.47M182.84 550.47H185.44" stroke="#1a1a1a" stroke-width="0.5" fill="none" opacity="0.5"/>
<path d="M189.93 546.71V549.00M188.63 546.71H191.23" stroke="#8c8c8c" stroke-width="0.5" fill="none" opacity="0.8"/>
<path d="M189.93 549.00V551.29M188.63 551.29H191.23" stroke="#1a1a1a" stroke-width="0.5" fill="none" opacity="0.5"/>
<path d="M195.72 546.71V547.70M194.42 546.71H197.02" stroke="#8c8c8c" stroke-width="0.5" fill="none" opacity="0.8"/>
<path d="M195.72 547.70V548.68M194.42 548.68H197.02" stroke="#1a1a1a" stroke-width="0.5" fill="none" opacity="0.5"/>
<path d="M201.51 546.06V548.02M200.21 546.06H202.81" stroke="#8c8c8c" stroke-width="0.5" fill="none" opacity="0.8"/>
<path d="M201.51 548.02V549.98M200.21 549.98H202.81" stroke="#1a1a1a" stroke-width="0.5" fill="none" opacity="0.5"/>
<rect x="210.19" y="547.70" width="5.79" height="4.91" fill="#20B5AF"/>
<rect x="215.98" y="546.06" width="5.79" height="6.54" fill="#F3482F"/>
<rect x="221.78" y="545.57" width="5.79" height="7.03" fill="#129A7E"/>
<rect x="227.56" y="545.57" width="5.79" height="7.03" fill="#27478A"/>
<path d="M213.09 547.20V547.70M211.79 547.20H214.39" stroke="#8c8c8c" stroke-width="0.5" fill="none" opacity="0.8"/>
<path d="M213.09 547.70V548.19M211.79 548.19H214.39" stroke="#1a1a1a" stroke-width="0.5" fill="none" opacity="0.5"/>
<path d="M218.88 545.41V546.06M217.58 545.41H220.18" stroke="#8c8c8c" stroke-width="0.5" fill="none" opacity="0.8"/>
<path d="M218.88 546.06V546.71M217.58 546.71H220.18" stroke="#1a1a1a" stroke-width="0.5" fill="none" opacity="0.5"/>
<path d="M224.67 544.92V545.57M223.37 544.92H225.97" stroke="#8c8c8c" stroke-width="0.5" fill="none" opacity="0.8"/>
<path d="M224.67 545.57V546.22M223.37 546.22H225.97" stroke="#1a1a1a" stroke-width="0.5" fill="none" opacity="0.5"/>
<path d="M230.46 545.08V545.57M229.16 545.08H231.76" stroke="#8c8c8c" stroke-width="0.5" fill="none" opacity="0.8"/>
<path d="M230.46 545.57V546.06M229.16 546.06H231.76" stroke="#1a1a1a" stroke-width="0.5" fill="none" opacity="0.5"/>
<rect x="239.15" y="546.06" width="5.79" height="6.54" fill="#20B5AF"/>
<rect x="244.94" y="545.73" width="5.79" height="6.87" fill="#F3482F"/>
<rect x="250.73" y="544.10" width="5.79" height="8.50" fill="#129A7E"/>
<rect x="256.51" y="543.61" width="5.79" height="8.99" fill="#27478A"/>
<path d="M242.04 543.12V546.06M240.74 543.12H243.34" stroke="#8c8c8c" stroke-width="0.5" fill="none" opacity="0.8"/>
<path d="M242.04 546.06V549.00M240.74 549.00H243.34" stroke="#1a1a1a" stroke-width="0.5" fill="none" opacity="0.5"/>
<path d="M247.83 544.10V545.73M246.53 544.10H249.13" stroke="#8c8c8c" stroke-width="0.5" fill="none" opacity="0.8"/>
<path d="M247.83 545.73V547.37M246.53 547.37H249.13" stroke="#1a1a1a" stroke-width="0.5" fill="none" opacity="0.5"/>
<path d="M253.62 543.28V544.10M252.32 543.28H254.92" stroke="#8c8c8c" stroke-width="0.5" fill="none" opacity="0.8"/>
<path d="M253.62 544.10V544.92M252.32 544.92H254.92" stroke="#1a1a1a" stroke-width="0.5" fill="none" opacity="0.5"/>
<path d="M259.41 541.97V543.61M258.11 541.97H260.71" stroke="#8c8c8c" stroke-width="0.5" fill="none" opacity="0.8"/>
<path d="M259.41 543.61V545.24M258.11 545.24H260.71" stroke="#1a1a1a" stroke-width="0.5" fill="none" opacity="0.5"/>
<rect x="268.09" y="539.19" width="5.79" height="13.41" fill="#20B5AF"/>
<rect x="273.88" y="537.72" width="5.79" height="14.88" fill="#F3482F"/>
<rect x="279.67" y="538.87" width="5.79" height="13.73" fill="#129A7E"/>
<rect x="285.46" y="539.19" width="5.79" height="13.41" fill="#27478A"/>
<path d="M270.99 536.58V539.19M269.69 536.58H272.29" stroke="#8c8c8c" stroke-width="0.5" fill="none" opacity="0.8"/>
<path d="M270.99 539.19V541.81M269.69 541.81H272.29" stroke="#1a1a1a" stroke-width="0.5" fill="none" opacity="0.5"/>
<path d="M276.78 535.76V537.72M275.48 535.76H278.08" stroke="#8c8c8c" stroke-width="0.5" fill="none" opacity="0.8"/>
<path d="M276.78 537.72V539.68M275.48 539.68H278.08" stroke="#1a1a1a" stroke-width="0.5" fill="none" opacity="0.5"/>
<path d="M282.57 535.27V538.87M281.27 535.27H283.87" stroke="#8c8c8c" stroke-width="0.5" fill="none" opacity="0.8"/>
<path d="M282.57 538.87V542.46M281.27 542.46H283.87" stroke="#1a1a1a" stroke-width="0.5" fill="none" opacity="0.5"/>
<path d="M288.36 535.60V539.19M287.06 535.60H289.66" stroke="#8c8c8c" stroke-width="0.5" fill="none" opacity="0.8"/>
<path d="M288.36 539.19V542.79M287.06 542.79H289.66" stroke="#1a1a1a" stroke-width="0.5" fill="none" opacity="0.5"/>
<rect x="297.04" y="538.38" width="5.79" height="14.22" fill="#20B5AF"/>
<rect x="302.83" y="534.29" width="5.79" height="18.31" fill="#F3482F"/>
<rect x="308.62" y="537.39" width="5.79" height="15.21" fill="#129A7E"/>
<rect x="314.41" y="537.07" width="5.79" height="15.53" fill="#27478A"/>
<path d="M299.94 533.47V538.38M298.64 533.47H301.24" stroke="#8c8c8c" stroke-width="0.5" fill="none" opacity="0.8"/>
<path d="M299.94 538.38V543.28M298.64 543.28H301.24" stroke="#1a1a1a" stroke-width="0.5" fill="none" opacity="0.5"/>
<path d="M305.73 531.35V534.29M304.43 531.35H307.03" stroke="#8c8c8c" stroke-width="0.5" fill="none" opacity="0.8"/>
<path d="M305.73 534.29V537.23M304.43 537.23H307.03" stroke="#1a1a1a" stroke-width="0.5" fill="none" opacity="0.5"/>
<path d="M311.52 534.12V537.39M310.22 534.12H312.82" stroke="#8c8c8c" stroke-width="0.5" fill="none" opacity="0.8"/>
<path d="M311.52 537.39V540.66M310.22 540.66H312.82" stroke="#1a1a1a" stroke-width="0.5" fill="none" opacity="0.5"/>
<path d="M317.31 534.45V537.07M316.01 534.45H318.61" stroke="#8c8c8c" stroke-width="0.5" fill="none" opacity="0.8"/>
<path d="M317.31 537.07V539.68M316.01 539.68H318.61" stroke="#1a1a1a" stroke-width="0.5" fill="none" opacity="0.5"/>
<rect x="326.00" y="526.60" width="5.79" height="26.00" fill="#20B5AF"/>
<rect x="331.79" y="525.30" width="5.79" height="27.30" fill="#F3482F"/>
<rect x="337.57" y="526.93" width="5.79" height="25.67" fill="#129A7E"/>
<rect x="343.37" y="533.96" width="5.79" height="18.64" fill="#27478A"/>
<path d="M328.89 521.04V526.60M327.59 521.04H330.19" stroke="#8c8c8c" stroke-width="0.5" fill="none" opacity="0.8"/>
<path d="M328.89 526.60V532.16M327.59 532.16H330.19" stroke="#1a1a1a" stroke-width="0.5" fill="none" opacity="0.5"/>
<path d="M334.68 522.68V525.30M333.38 522.68H335.98" stroke="#8c8c8c" stroke-width="0.5" fill="none" opacity="0.8"/>
<path d="M334.68 525.30V527.91M333.38 527.91H335.98" stroke="#1a1a1a" stroke-width="0.5" fill="none" opacity="0.5"/>
<path d="M340.47 526.28V526.93M339.17 526.28H341.77" stroke="#8c8c8c" stroke-width="0.5" fill="none" opacity="0.8"/>
<path d="M340.47 526.93V527.58M339.17 527.58H341.77" stroke="#1a1a1a" stroke-width="0.5" fill="none" opacity="0.5"/>
<path d="M346.26 530.04V533.96M344.96 530.04H347.56" stroke="#8c8c8c" stroke-width="0.5" fill="none" opacity="0.8"/>
<path d="M346.26 533.96V537.88M344.96 537.88H347.56" stroke="#1a1a1a" stroke-width="0.5" fill="none" opacity="0.5"/>
<rect x="354.94" y="466.76" width="5.79" height="85.84" fill="#20B5AF"/>
<rect x="360.73" y="464.64" width="5.79" height="87.96" fill="#F3482F"/>
<rect x="366.52" y="464.64" width="5.79" height="87.96" fill="#129A7E"/>
<rect x="372.31" y="475.75" width="5.79" height="76.84" fill="#27478A"/>
<path d="M357.84 460.55V466.76M356.54 460.55H359.14" stroke="#8c8c8c" stroke-width="0.5" fill="none" opacity="0.8"/>
<path d="M357.84 466.76V472.98M356.54 472.98H359.14" stroke="#1a1a1a" stroke-width="0.5" fill="none" opacity="0.5"/>
<path d="M363.63 460.71V464.64M362.33 460.71H364.93" stroke="#8c8c8c" stroke-width="0.5" fill="none" opacity="0.8"/>
<path d="M363.63 464.64V468.56M362.33 468.56H364.93" stroke="#1a1a1a" stroke-width="0.5" fill="none" opacity="0.5"/>
<path d="M369.42 460.06V464.64M368.12 460.06H370.72" stroke="#8c8c8c" stroke-width="0.5" fill="none" opacity="0.8"/>
<path d="M369.42 464.64V469.22M368.12 469.22H370.72" stroke="#1a1a1a" stroke-width="0.5" fill="none" opacity="0.5"/>
<path d="M375.21 471.83V475.75M373.91 471.83H376.51" stroke="#8c8c8c" stroke-width="0.5" fill="none" opacity="0.8"/>
<path d="M375.21 475.75V479.68M373.91 479.68H376.51" stroke="#1a1a1a" stroke-width="0.5" fill="none" opacity="0.5"/>
<rect x="383.89" y="458.91" width="5.79" height="93.69" fill="#20B5AF"/>
<rect x="389.69" y="457.12" width="5.79" height="95.48" fill="#F3482F"/>
<rect x="395.47" y="457.77" width="5.79" height="94.83" fill="#129A7E"/>
<rect x="401.26" y="470.52" width="5.79" height="82.08" fill="#27478A"/>
<path d="M386.79 453.36V458.91M385.49 453.36H388.09" stroke="#8c8c8c" stroke-width="0.5" fill="none" opacity="0.8"/>
<path d="M386.79 458.91V464.47M385.49 464.47H388.09" stroke="#1a1a1a" stroke-width="0.5" fill="none" opacity="0.5"/>
<path d="M392.58 455.81V457.12M391.28 455.81H393.88" stroke="#8c8c8c" stroke-width="0.5" fill="none" opacity="0.8"/>
<path d="M392.58 457.12V458.42M391.28 458.42H393.88" stroke="#1a1a1a" stroke-width="0.5" fill="none" opacity="0.5"/>
<path d="M398.37 455.15V457.77M397.07 455.15H399.67" stroke="#8c8c8c" stroke-width="0.5" fill="none" opacity="0.8"/>
<path d="M398.37 457.77V460.39M397.07 460.39H399.67" stroke="#1a1a1a" stroke-width="0.5" fill="none" opacity="0.5"/>
<path d="M404.16 467.91V470.52M402.86 467.91H405.46" stroke="#8c8c8c" stroke-width="0.5" fill="none" opacity="0.8"/>
<path d="M404.16 470.52V473.14M402.86 473.14H405.46" stroke="#1a1a1a" stroke-width="0.5" fill="none" opacity="0.5"/>
<path d="M178.35 413.13V552.6H409.95" stroke="#000" stroke-width="1" fill="none"/>
<path d="M175.15 552.60H178.35" stroke="#000" stroke-width="0.9"/>
<text x="173.15" y="554.8000000000001" font-family="Liberation Serif, serif" font-size="7.0" font-weight="bold" text-anchor="end" fill="#000" stroke="#000" stroke-width="0.3" >0</text>
<path d="M176.55 544.43H178.35" stroke="#000" stroke-width="0.9"/>
<path d="M175.15 536.25H178.35" stroke="#000" stroke-width="0.9"/>
<text x="173.15" y="538.45" font-family="Liberation Serif, serif" font-size="7.0" font-weight="bold" text-anchor="end" fill="#000" stroke="#000" stroke-width="0.3" >10</text>
<path d="M176.55 528.08H178.35" stroke="#000" stroke-width="0.9"/>
<path d="M175.15 519.90H178.35" stroke="#000" stroke-width="0.9"/>
<text x="173.15" y="522.1" font-family="Liberation Serif, serif" font-size="7.0" font-weight="bold" text-anchor="end" fill="#000" stroke="#000" stroke-width="0.3" >20</text>
<path d="M176.55 511.73H178.35" stroke="#000" stroke-width="0.9"/>
<path d="M175.15 503.55H178.35" stroke="#000" stroke-width="0.9"/>
<text x="173.15" y="505.75" font-family="Liberation Serif, serif" font-size="7.0" font-weight="bold" text-anchor="end" fill="#000" stroke="#000" stroke-width="0.3" >30</text>
<path d="M176.55 495.38H178.35" stroke="#000" stroke-width="0.9"/>
<path d="M175.15 487.20H178.35" stroke="#000" stroke-width="0.9"/>
<text x="173.15" y="489.40000000000003" font-family="Liberation Serif, serif" font-size="7.0" font-weight="bold" text-anchor="end" fill="#000" stroke="#000" stroke-width="0.3" >40</text>
<path d="M176.55 479.03H178.35" stroke="#000" stroke-width="0.9"/>
<path d="M175.15 470.85H178.35" stroke="#000" stroke-width="0.9"/>
<text x="173.15" y="473.05" font-family="Liberation Serif, serif" font-size="7.0" font-weight="bold" text-anchor="end" fill="#000" stroke="#000" stroke-width="0.3" >50</text>
<path d="M176.55 462.68H178.35" stroke="#000" stroke-width="0.9"/>
<path d="M175.15 454.50H178.35" stroke="#000" stroke-width="0.9"/>
<text x="173.15" y="456.7" font-family="Liberation Serif, serif" font-size="7.0" font-weight="bold" text-anchor="end" fill="#000" stroke="#000" stroke-width="0.3" >60</text>
<path d="M176.55 446.33H178.35" stroke="#000" stroke-width="0.9"/>
<path d="M175.15 438.15H178.35" stroke="#000" stroke-width="0.9"/>
<text x="173.15" y="440.35" font-family="Liberation Serif, serif" font-size="7.0" font-weight="bold" text-anchor="end" fill="#000" stroke="#000" stroke-width="0.3" >70</text>
<path d="M176.55 429.98H178.35" stroke="#000" stroke-width="0.9"/>
<path d="M175.15 421.80H178.35" stroke="#000" stroke-width="0.9"/>
<text x="173.15" y="424.0" font-family="Liberation Serif, serif" font-size="7.0" font-weight="bold" text-anchor="end" fill="#000" stroke="#000" stroke-width="0.3" >80</text>
<path d="M176.55 413.62H178.35" stroke="#000" stroke-width="0.9"/>
<path d="M192.82 552.6v3.2" stroke="#000" stroke-width="0.9"/>
<text x="192.82" y="563.5" font-family="Liberation Serif, serif" font-size="7.0" font-weight="bold" text-anchor="middle" fill="#000" stroke="#000" stroke-width="0.3" >3</text>
<path d="M221.77 552.6v3.2" stroke="#000" stroke-width="0.9"/>
<text x="221.77" y="563.5" font-family="Liberation Serif, serif" font-size="7.0" font-weight="bold" text-anchor="middle" fill="#000" stroke="#000" stroke-width="0.3" >6</text>
<path d="M207.30 552.6v1.8" stroke="#000" stroke-width="0.9"/>
<path d="M250.72 552.6v3.2" stroke="#000" stroke-width="0.9"/>
<text x="250.72" y="563.5" font-family="Liberation Serif, serif" font-size="7.0" font-weight="bold" text-anchor="middle" fill="#000" stroke="#000" stroke-width="0.3" >15</text>
<path d="M236.25 552.6v1.8" stroke="#000" stroke-width="0.9"/>
<path d="M279.68 552.6v3.2" stroke="#000" stroke-width="0.9"/>
<text x="279.68" y="563.5" font-family="Liberation Serif, serif" font-size="7.0" font-weight="bold" text-anchor="middle" fill="#000" stroke="#000" stroke-width="0.3" >30</text>
<path d="M265.20 552.6v1.8" stroke="#000" stroke-width="0.9"/>
<path d="M308.62 552.6v3.2" stroke="#000" stroke-width="0.9"/>
<text x="308.62" y="563.5" font-family="Liberation Serif, serif" font-size="7.0" font-weight="bold" text-anchor="middle" fill="#000" stroke="#000" stroke-width="0.3" >60</text>
<path d="M294.15 552.6v1.8" stroke="#000" stroke-width="0.9"/>
<path d="M337.57 552.6v3.2" stroke="#000" stroke-width="0.9"/>
<text x="337.57" y="563.5" font-family="Liberation Serif, serif" font-size="7.0" font-weight="bold" text-anchor="middle" fill="#000" stroke="#000" stroke-width="0.3" >150</text>
<path d="M323.10 552.6v1.8" stroke="#000" stroke-width="0.9"/>
<path d="M366.52 552.6v3.2" stroke="#000" stroke-width="0.9"/>
<text x="366.52" y="563.5" font-family="Liberation Serif, serif" font-size="7.0" font-weight="bold" text-anchor="middle" fill="#000" stroke="#000" stroke-width="0.3" >300</text>
<path d="M352.05 552.6v1.8" stroke="#000" stroke-width="0.9"/>
<path d="M395.48 552.6v3.2" stroke="#000" stroke-width="0.9"/>
<text x="395.48" y="563.5" font-family="Liberation Serif, serif" font-size="7.0" font-weight="bold" text-anchor="middle" fill="#000" stroke="#000" stroke-width="0.3" >600</text>
<path d="M381.00 552.6v1.8" stroke="#000" stroke-width="0.9"/>
<text x="294.4" y="575.7" font-family="Liberation Serif, serif" font-size="7.7" font-weight="bold" text-anchor="middle" fill="#000" stroke="#000" stroke-width="0.3" >DMA concentration (μg/ml)</text>
<text x="162.9" y="482.8" font-family="Liberation Serif, serif" font-size="7.2" font-weight="bold" text-anchor="middle" fill="#000" stroke="#000" stroke-width="0.3" transform="rotate(-90 162.9 482.8)">ΔE</text>
<rect x="189.4" y="413.70" width="16.6" height="7.7" fill="#20B5AF"/>
<text x="208.70" y="420.05" font-family="Liberation Serif, serif" font-size="7.0" font-weight="bold" text-anchor="start" fill="#000" stroke="#000" stroke-width="0.3" >EDC</text>
<rect x="189.4" y="423.13" width="16.6" height="7.7" fill="#F3482F"/>
<text x="208.70" y="429.48" font-family="Liberation Serif, serif" font-size="7.0" font-weight="bold" text-anchor="start" fill="#000" stroke="#000" stroke-width="0.3" >EDCA1</text>
<rect x="189.4" y="432.56" width="16.6" height="7.7" fill="#129A7E"/>
<text x="208.70" y="438.91" font-family="Liberation Serif, serif" font-size="7.0" font-weight="bold" text-anchor="start" fill="#000" stroke="#000" stroke-width="0.3" >EDCA2</text>
<rect x="189.4" y="441.99" width="16.6" height="7.7" fill="#27478A"/>
<text x="208.70" y="448.34" font-family="Liberation Serif, serif" font-size="7.0" font-weight="bold" text-anchor="start" fill="#000" stroke="#000" stroke-width="0.3" >EDCA3</text>
</g>
</svg></body></html>
